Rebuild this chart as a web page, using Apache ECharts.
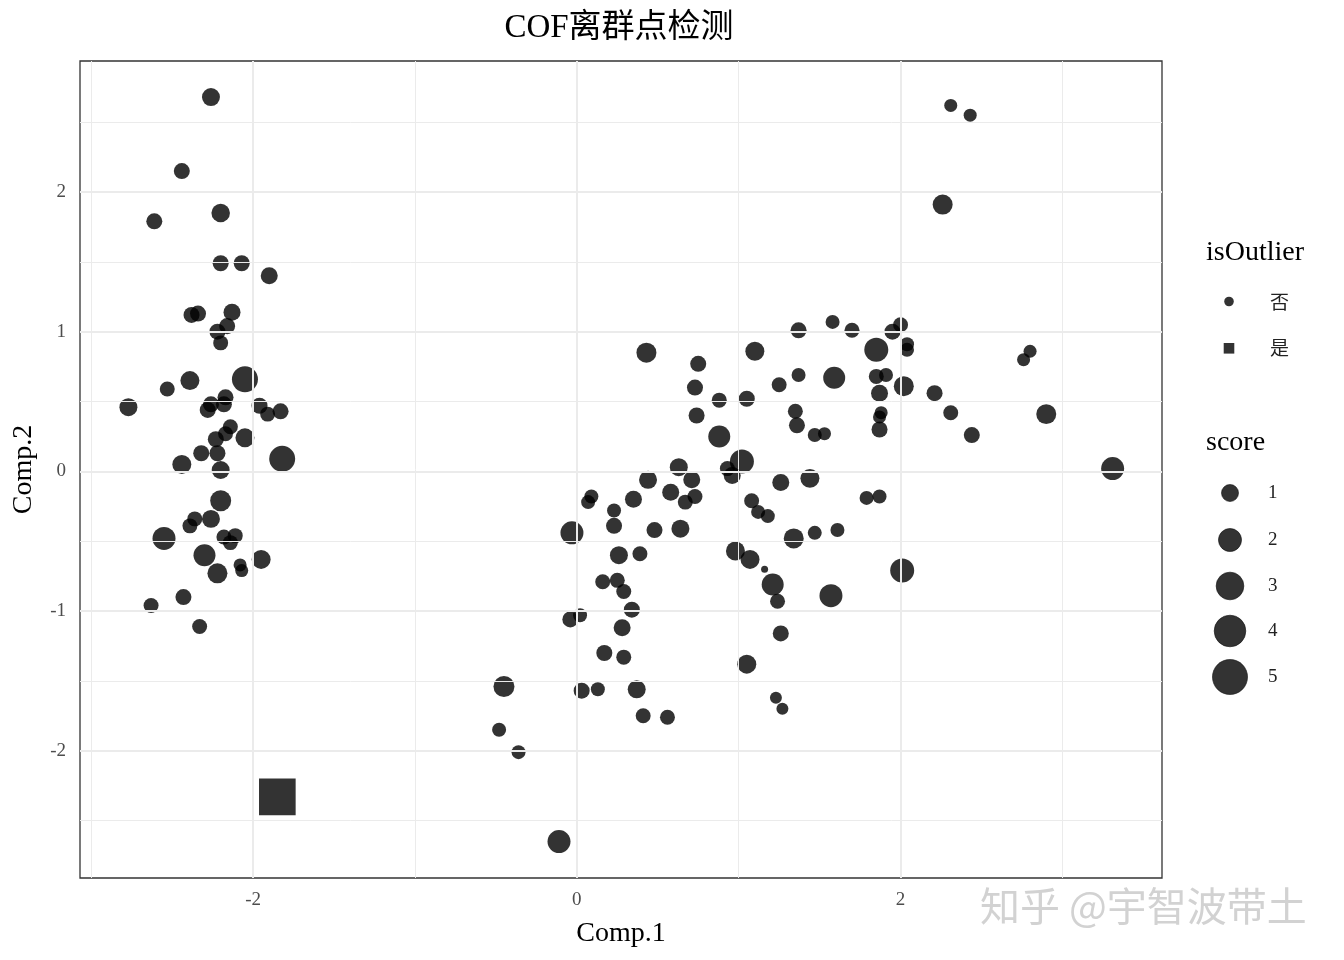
<!DOCTYPE html>
<html><head><meta charset="utf-8">
<script src="https://cdn.jsdelivr.net/npm/echarts@6/dist/echarts.min.js"></script>
<style>html,body{margin:0;padding:0;background:#fff}#main{width:1344px;height:960px}</style>
</head><body><div id="main"></div>
<script>
// ---- data ----
const comp1 = [
  -2.26,-2.44,-2.20,-2.61,-2.20,-2.07,-1.90,-2.38,-2.34,-2.13,-2.16,-2.22,-2.20,-2.05,-2.39,-2.53,-2.77,-2.17,-2.26,-2.18,
  -2.28,-1.96,-1.91,-1.83,-2.14,-2.17,-2.23,-2.05,-2.32,-2.22,-2.44,-1.82,-2.20,-2.20,-2.36,-2.39,-2.26,-2.55,-2.18,-2.11,
  -2.14,-2.30,-1.95,-2.22,-2.08,-2.07,-2.43,-2.63,-2.33,
  0.43,0.75,0.73,0.88,0.74,0.88,0.63,0.71,0.44,0.58,0.73,0.67,0.35,0.09,0.07,0.23,0.23,-0.03,0.48,0.64,
  0.26,0.39,0.16,0.25,0.29,0.34,-0.04,0.02,0.28,0.17,0.29,1.05,-0.45,0.03,0.13,0.37,0.41,0.56,-0.48,-0.36,
  -0.11,1.37,1.58,1.70,1.95,2.00,1.85,2.04,2.04,1.10,1.37,1.25,1.59,1.85,1.91,1.87,2.02,2.21,2.31,1.05,
  1.35,1.36,1.47,1.53,1.88,1.87,1.87,1.02,0.93,0.96,1.26,1.44,1.79,1.87,1.08,1.12,1.18,1.34,1.47,1.61,
  0.98,1.07,1.16,1.21,1.24,1.57,2.01,1.26,1.23,1.27,2.31,2.43,2.26,2.80,2.76,2.90,2.44,3.31
];
const comp2 = [
  2.68,2.15,1.85,1.79,1.49,1.49,1.40,1.12,1.13,1.14,1.04,1.00,0.92,0.66,0.65,0.59,0.46,0.53,0.48,0.48,
  0.44,0.47,0.41,0.43,0.32,0.27,0.23,0.24,0.13,0.13,0.05,0.09,0.01,-0.21,-0.34,-0.39,-0.34,-0.48,-0.47,-0.46,
  -0.51,-0.60,-0.63,-0.73,-0.67,-0.71,-0.90,-0.96,-1.11,
  0.85,0.77,0.60,0.51,0.40,0.25,0.03,-0.06,-0.06,-0.15,-0.18,-0.22,-0.20,-0.18,-0.22,-0.28,-0.39,-0.44,-0.42,-0.41,
  -0.60,-0.59,-0.79,-0.78,-0.86,-0.99,-1.06,-1.03,-1.12,-1.30,-1.33,-1.38,-1.54,-1.57,-1.56,-1.56,-1.75,-1.76,-1.85,-2.01,
  -2.65,1.01,1.07,1.01,1.00,1.05,0.87,0.91,0.87,0.86,0.69,0.62,0.67,0.68,0.69,0.56,0.61,0.56,0.42,0.52,
  0.43,0.33,0.26,0.27,0.42,0.39,0.30,0.07,0.02,-0.03,-0.08,-0.05,-0.19,-0.18,-0.21,-0.29,-0.32,-0.48,-0.44,-0.42,
  -0.57,-0.63,-0.70,-0.81,-0.93,-0.89,-0.71,-1.16,-1.62,-1.70,2.62,2.55,1.91,0.86,0.80,0.41,0.26,0.02
];
const score = [
  1.14,0.87,1.22,0.87,0.87,0.87,1.00,0.87,0.87,1.00,0.87,0.87,0.74,2.61,1.29,0.74,1.14,0.87,0.87,0.87,
  0.87,0.87,0.74,0.87,0.74,0.74,0.87,1.29,0.87,0.87,1.29,2.61,1.14,1.62,0.74,0.74,1.14,1.99,0.74,0.74,
  0.74,1.80,1.29,1.45,0.53,0.53,0.87,0.74,0.74,
  1.45,0.87,0.87,0.74,0.87,1.80,1.14,1.00,1.14,1.00,0.74,0.74,1.00,0.63,0.63,0.63,0.87,1.99,0.87,1.14,
  1.14,0.74,0.74,0.74,0.74,0.87,0.87,0.63,1.00,0.87,0.74,1.29,1.62,0.87,0.63,1.14,0.74,0.74,0.63,0.63,
  1.99,0.87,0.63,0.74,0.87,0.74,2.19,0.63,0.63,1.29,0.63,0.74,1.80,0.74,0.63,1.00,1.45,0.87,0.74,0.87,
  0.74,0.87,0.63,0.53,0.53,0.53,0.87,2.19,0.74,1.00,1.00,1.29,0.63,0.63,0.74,0.63,0.63,1.45,0.63,0.63,
  1.29,1.29,0.10,1.80,0.74,1.99,2.19,0.87,0.43,0.43,0.53,0.53,1.45,0.53,0.53,1.45,0.87,1.99
];
const outlierComp1 = [-1.85];
const outlierComp2 = [-2.33];
const outlierScore = [5.5];

const xTicks = [-2, 0, 2];
const yTicks = [-2, -1, 0, 1, 2];
const xMinor = [-3, -1, 1, 3];
const yMinor = [-2.5, -1.5, -0.5, 0.5, 1.5, 2.5];
const legendScores = [1, 2, 3, 4, 5];
const outlierLabels = ['否', '是'];

// ---- layout / style ----
const X_MIN = -3.069, X_MAX = 3.615, Y_MIN = -2.911, Y_MAX = 2.938;
const SERIF = "'Liberation Serif','Noto Sans CJK SC',serif";
const CJK = "'Noto Sans CJK SC',sans-serif";
const PT = 'rgba(0,0,0,0.8)';
function sizeOf(s) { return 2.4 + 14.6 * Math.sqrt(s); }

const inliers = comp1.map((x, i) => [x, comp2[i], score[i]]);
const outliers = outlierComp1.map((x, i) => [x, outlierComp2[i], outlierScore[i]]);

const gridLine = (axis, vals, width) => ({
  type: 'scatter', data: [[0, 0]], symbolSize: 0, silent: true, z: 1,
  markLine: {
    silent: true, symbol: ['none', 'none'], label: { show: false },
    lineStyle: { color: '#ebebeb', width: width, type: 'solid' },
    emphasis: { disabled: true },
    data: vals.map(v => ({ [axis]: v }))
  }
});

const legendG = [];
legendG.push({ type: 'text', x: 1206, y: 253, style: { text: 'isOutlier', font: '28px ' + SERIF, fill: '#000', textVerticalAlign: 'middle' } });
legendG.push({ type: 'circle', shape: { cx: 1229, cy: 301.5, r: 4.8 }, style: { fill: PT } });
legendG.push({ type: 'rect', shape: { x: 1223.7, y: 343, width: 10.6, height: 10.6 }, style: { fill: PT } });
const okY = [304, 350];
outlierLabels.forEach((t, i) => legendG.push({ type: 'text', x: 1270, y: okY[i], style: { text: t, font: '19px ' + SERIF, fill: '#222', textVerticalAlign: 'middle' } }));
legendG.push({ type: 'text', x: 1206, y: 443, style: { text: 'score', font: '28px ' + SERIF, fill: '#000', textVerticalAlign: 'middle' } });
const ly = [493, 540, 586, 631, 677];
legendScores.forEach((s, i) => {
  legendG.push({ type: 'circle', shape: { cx: 1230, cy: ly[i], r: sizeOf(s) / 2 }, style: { fill: PT, stroke: '#111', lineWidth: 0.6 } });
  legendG.push({ type: 'text', x: 1268, y: ly[i], style: { text: String(s), font: '19px ' + SERIF, fill: '#222', textVerticalAlign: 'middle' } });
});

const option = {
  animation: false,
  backgroundColor: '#fff',
  grid: { left: 80, top: 61, width: 1082, height: 817, show: true, borderColor: '#333', borderWidth: 1.3, backgroundColor: '#fff' },
  xAxis: {
    type: 'value', min: X_MIN, max: X_MAX,
    name: 'Comp.1', nameLocation: 'middle', nameGap: 42,
    nameTextStyle: { fontFamily: SERIF, fontSize: 28, color: '#000' },
    axisLine: { show: false },
    axisTick: { show: true, customValues: xTicks, length: 5, lineStyle: { color: '#333', width: 1.5 } },
    axisLabel: { customValues: xTicks, fontFamily: SERIF, fontSize: 19, color: '#4d4d4d', margin: 13 },
    splitLine: { show: false }
  },
  yAxis: {
    type: 'value', min: Y_MIN, max: Y_MAX,
    name: 'Comp.2', nameLocation: 'middle', nameGap: 42, nameRotate: 90,
    nameTextStyle: { fontFamily: SERIF, fontSize: 28, color: '#000' },
    axisLine: { show: false },
    axisTick: { show: true, customValues: yTicks, length: 5, lineStyle: { color: '#333', width: 1.5 } },
    axisLabel: { customValues: yTicks, fontFamily: SERIF, fontSize: 19, color: '#4d4d4d', margin: 14 },
    splitLine: { show: false }
  },
  graphic: [
    { type: 'text', x: 619, y: 28, style: { text: 'COF离群点检测', font: '33px ' + SERIF, fill: '#000', textAlign: 'center', textVerticalAlign: 'middle' } },
    { type: 'text', x: 980, y: 906, z: 100, style: { text: '知乎 @宇智波带土', font: '40px ' + CJK, fill: '#d2d2d2', textVerticalAlign: 'middle' } },
    ...legendG
  ],
  series: [
    gridLine('xAxis', xMinor, 1),
    gridLine('yAxis', yMinor, 1),
    gridLine('xAxis', xTicks, 2),
    gridLine('yAxis', yTicks, 2),
    {
      name: '否', type: 'scatter', z: 3, data: inliers,
      symbol: 'circle', symbolSize: d => sizeOf(d[2]),
      itemStyle: { color: PT, opacity: 1 }
    },
    {
      name: '是', type: 'scatter', z: 3, data: outliers,
      symbol: 'rect', symbolSize: d => sizeOf(d[2]),
      itemStyle: { color: PT, opacity: 1 }
    }
  ]
};
const chart = echarts.init(document.getElementById('main'), null, { renderer: 'canvas' });
chart.setOption(option);
</script>
</body></html>
